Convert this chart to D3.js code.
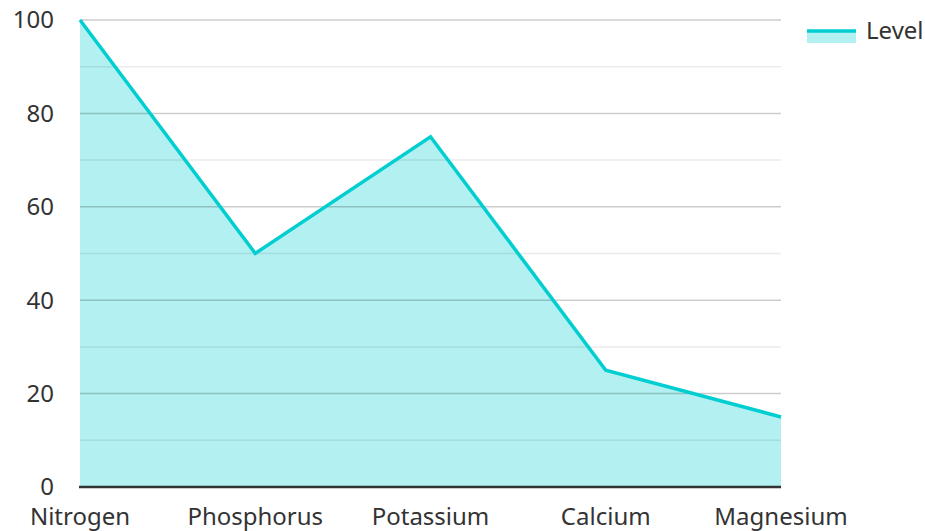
<!DOCTYPE html>
<html><head><meta charset="utf-8">
<script src="https://cdn.jsdelivr.net/npm/d3@7"></script>
<style>body{margin:0;background:#fff;} text{font-family:"Noto Sans","Open Sans",sans-serif;}</style>
</head><body><svg id="c" width="925" height="531"></svg>
<script>
const categories = ["Nitrogen","Phosphorus","Potassium","Calcium","Magnesium"];
const levels = [100, 50, 75, 25, 15];
const yTicks = [0,20,40,60,80,100];
const minorTicks = [10,30,50,70,90];
const seriesName = "Level";

const svg = d3.select("#c");
const m = {l:80, r:144, t:20, b:44};
const W = 925, H = 531;
const x = d3.scalePoint().domain(categories).range([m.l, W-m.r]).padding(0);
const y = d3.scaleLinear().domain([0,100]).range([H-m.b, m.t]);
const color = "#00CED1";
const fs = 24;

const area = d3.area().x((d,i)=>x(categories[i])).y0(y(0)).y1(d=>y(d));
const line = d3.line().x((d,i)=>x(categories[i])).y(d=>y(d));

svg.append("path").datum(levels).attr("d", area).attr("fill", color).attr("fill-opacity", 0.3);

const g = svg.append("g");
g.selectAll(".minor").data(minorTicks).join("line")
  .attr("x1", m.l).attr("x2", W-m.r).attr("y1", d=>y(d)).attr("y2", d=>y(d))
  .attr("stroke", "#000").attr("stroke-opacity", 0.08).attr("stroke-width", 1.5);
g.selectAll(".major").data(yTicks.filter(d=>d>0)).join("line")
  .attr("x1", m.l).attr("x2", W-m.r).attr("y1", d=>y(d)).attr("y2", d=>y(d))
  .attr("stroke", "#000").attr("stroke-opacity", 0.2).attr("stroke-width", 1.5);

svg.append("path").datum(levels).attr("d", line).attr("fill","none").attr("stroke", color).attr("stroke-width", 3.5);

svg.append("line").attr("x1", m.l-1).attr("x2", W-m.r).attr("y1", y(0)).attr("y2", y(0))
  .attr("stroke", "#333").attr("stroke-width", 2.5);

svg.selectAll(".yl").data(yTicks).join("text")
  .attr("x", 54).attr("y", d=>y(d)).attr("dy","0.35em").attr("text-anchor","end")
  .attr("font-size", fs).attr("fill","#333").text(d=>d);

svg.selectAll(".xl").data(categories).join("text")
  .attr("x", d=>x(d)).attr("y", 525).attr("text-anchor","middle")
  .attr("font-size", fs).attr("fill","#333").text(d=>d);

const lg = svg.append("g");
lg.append("rect").attr("x",807).attr("y",30).attr("width",49).attr("height",13).attr("fill",color).attr("fill-opacity",0.3);
lg.append("line").attr("x1",807).attr("x2",856).attr("y1",31).attr("y2",31).attr("stroke",color).attr("stroke-width",3.5);
lg.append("text").attr("x",866).attr("y",31).attr("dy","0.35em").attr("font-size",fs).attr("fill","#333").text(seriesName);
</script></body></html>
